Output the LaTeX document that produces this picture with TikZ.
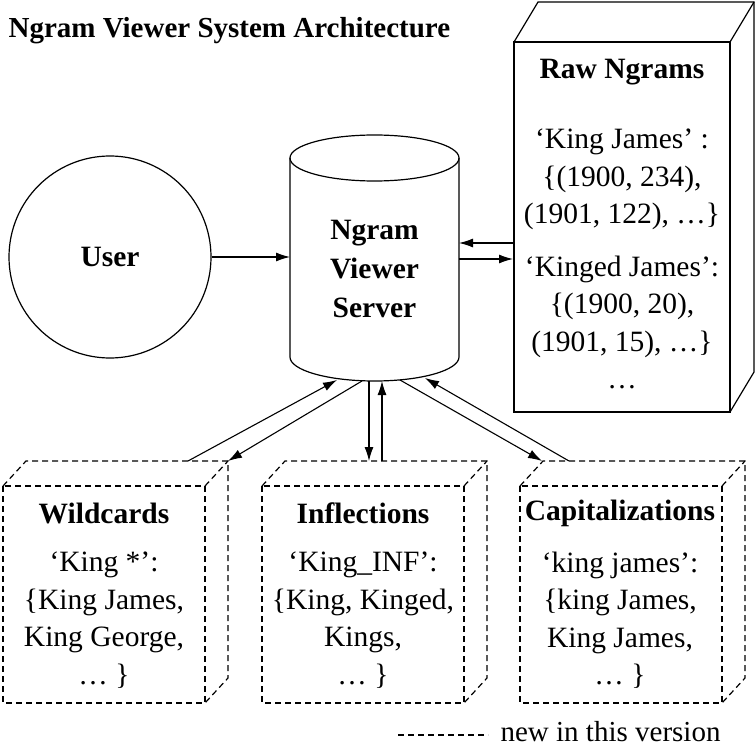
\documentclass[tikz,border=0pt]{standalone}
\usepackage{fontspec}
\setmainfont{Liberation Serif}
\usetikzlibrary{arrows.meta}
\begin{document}
\begin{tikzpicture}[x=1pt,y=-1pt,line width=1.2pt,
  txt/.style={align=center,font=\fontsize{29.5}{37.5}\selectfont,inner sep=0pt},
  ttl/.style={font=\fontsize{29.5}{37.5}\selectfont\bfseries,inner sep=0pt},
  arr/.style={-{Latex[length=14pt,width=9pt]},line width=1.1pt},
  dsh/.style={dash pattern=on 6pt off 4pt}]
\useasboundingbox (0,0) rectangle (755,746);
% title
\node[anchor=west,inner sep=0pt,font=\fontsize{29}{32}\selectfont\bfseries] (title) at (8,31) {Ngram Viewer System Architecture};
% user
\node[circle,draw,minimum size=202pt,inner sep=0pt,font=\fontsize{29.5}{32}\selectfont\bfseries] (user) at (110,257) {User};
% server cylinder
\draw (290,158) -- (290,357) arc[start angle=180,end angle=360,x radius=84.5pt,y radius=24pt] -- (459,158);
\draw (374.5,158) ellipse [x radius=84.5pt,y radius=23pt];
\node[ttl,align=center,font=\fontsize{29.5}{39}\selectfont\bfseries] (server) at (374.5,269) {Ngram\\Viewer\\Server};
% raw ngrams box
\draw (514,42) rectangle (730,412);
\draw (514,42) -- (538,2) -- (754,2) -- (754,372) -- (730,412);
\draw (730,42) -- (754,2);
\node[ttl] (rawt) at (622,72) {Raw Ngrams};
\node[txt] (raw) at (622,259) {`King James' :\\\{(1900, 234),\\(1901, 122), \dots\}\\[15pt]`Kinged James':\\\{(1900, 20),\\(1901, 15), \dots\}\\\dots};
% dashed boxes
\foreach \n/\x in {wild/3,infl/262,cap/520}{
  \draw[dsh] (\x,486) rectangle (\x+202,703);
  \draw[dsh] (\x,486) -- (\x+23,461) -- (\x+225,461) -- (\x+225,678) -- (\x+202,703);
  \draw[dsh] (\x+202,486) -- (\x+225,461);
  \coordinate (\n) at (\x+101,595);
}
\node[ttl] (wildt) at (104,513) {Wildcards};
\node[txt] (wildx) at (104,620) {`King *':\\\{King James,\\King George,\\\dots\ \}};
\node[ttl] (inflt) at (363,513) {Inflections};
\node[txt] (inflx) at (363,620) {`King\_INF':\\\{King, Kinged,\\Kings,\\\dots\ \}};
\node[ttl] (capt) at (620,513) {Capitalizations};
\node[txt] (capx) at (620,620) {`king james':\\\{king James,\\King James,\\\dots\ \}};
% connector coordinates
\coordinate (sL) at (290,257);
\coordinate (sR1) at (459,243);
\coordinate (sR2) at (459,259);
\coordinate (rL1) at (513,243);
\coordinate (rL2) at (513,259);
\coordinate (sb1) at (337,380);
\coordinate (sb2) at (362,381);
\coordinate (sb3) at (369,381);
\coordinate (sb4) at (382,381);
\coordinate (sb5) at (400,380);
\coordinate (sb6) at (425,378);
\coordinate (w1) at (188,461);
\coordinate (w2) at (228,461);
\coordinate (i1) at (369,461);
\coordinate (i2) at (382,461);
\coordinate (c1) at (542,461);
\coordinate (c2) at (569,461);
\draw[arr] (user.east) -- (sL);
\draw[arr] (rL1) -- (sR1);
\draw[arr] (sR2) -- (rL2);
\draw[arr] (w1) -- (sb1);
\draw[arr] (sb2) -- (w2);
\draw[arr] (sb3) -- (i1);
\draw[arr] (i2) -- (sb4);
\draw[arr] (sb5) -- (c1);
\draw[arr] (c2) -- (sb6);
% legend
\coordinate (lg1) at (398,735);
\coordinate (lg2) at (488,735);
\draw[dsh] (lg1) -- (lg2);
\node[anchor=base west,inner sep=0pt,font=\fontsize{29}{30}\selectfont] (legend) at (500,741) {new in this version};
\end{tikzpicture}
\end{document}
